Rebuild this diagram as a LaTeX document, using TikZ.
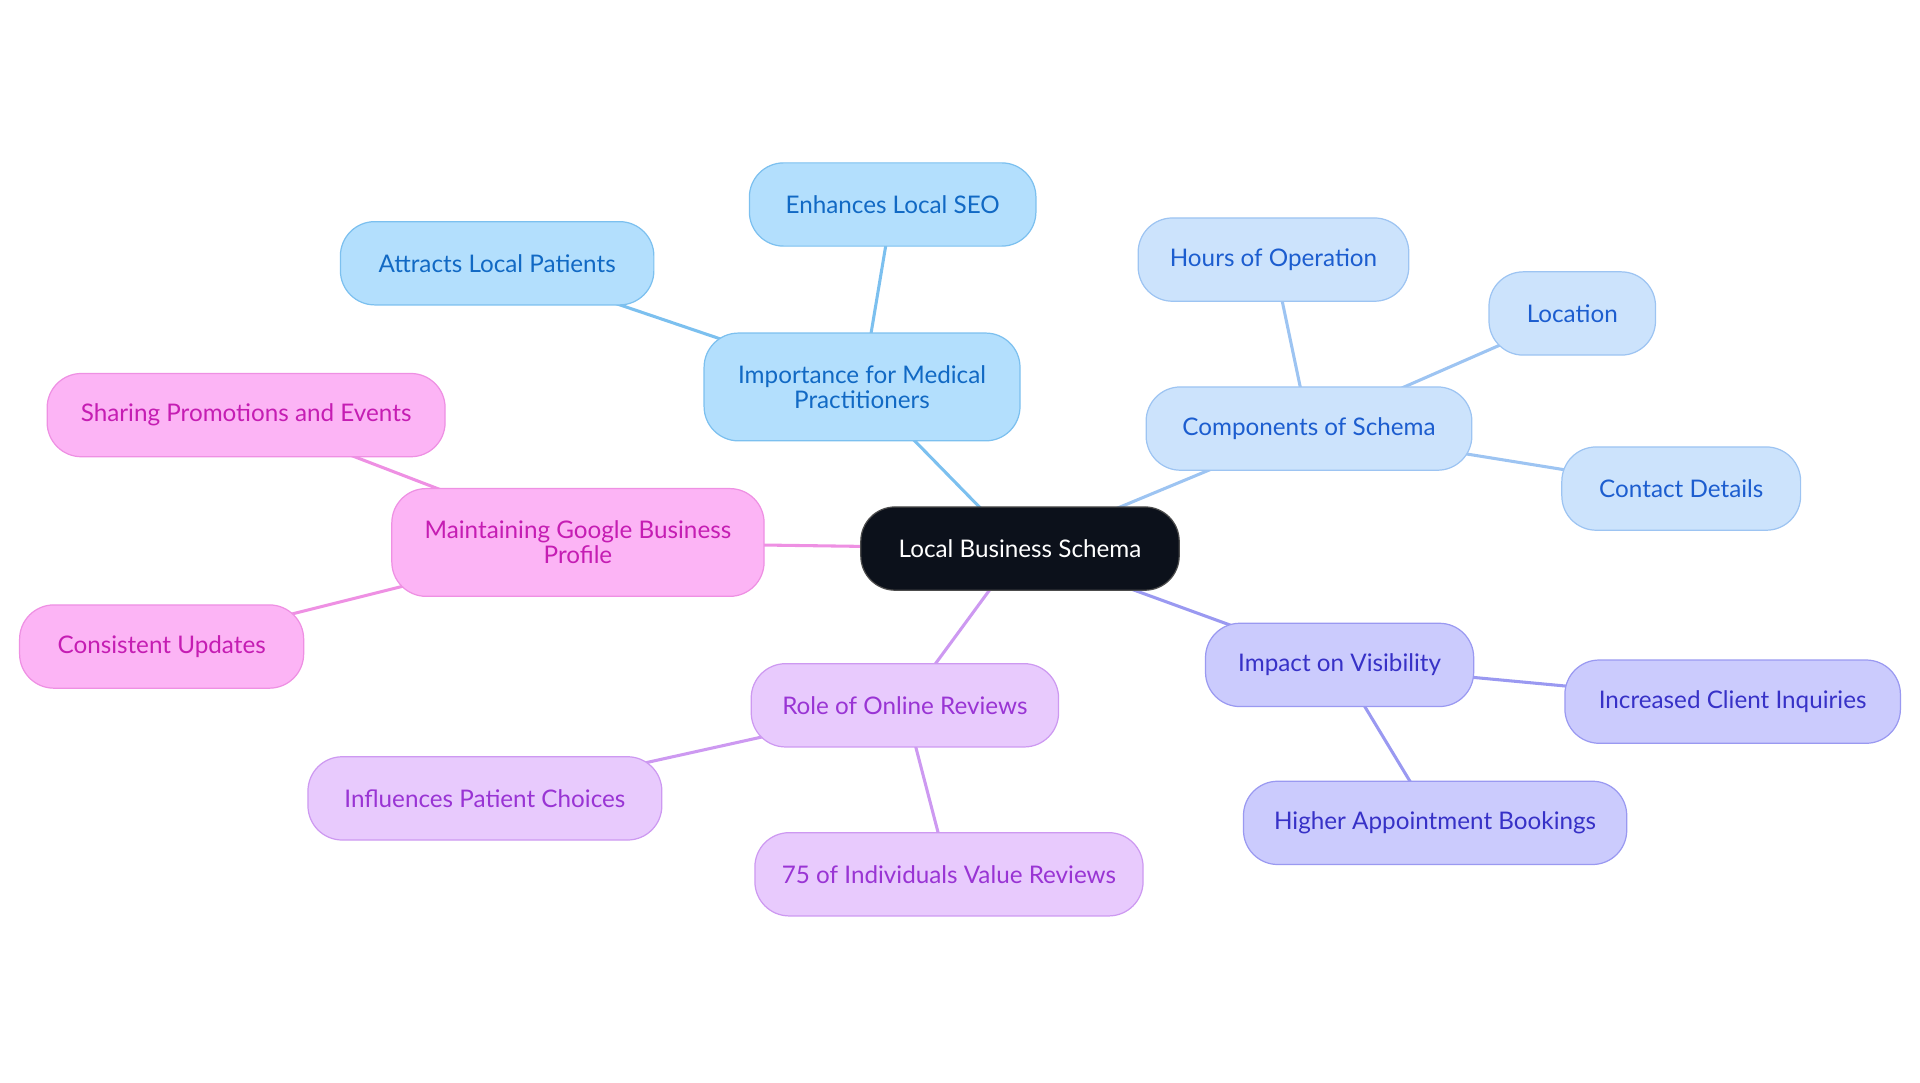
\documentclass[tikz,border=0pt]{standalone}
\usepackage{fontspec}
\setmainfont{Lato}
\usetikzlibrary{backgrounds}
\definecolor{cfill}{HTML}{0C111B}
\definecolor{aFill}{HTML}{B3DFFD}\definecolor{aLine}{HTML}{7CC0EF}\definecolor{aText}{HTML}{1169C4}
\definecolor{bFill}{HTML}{CCE3FC}\definecolor{bLine}{HTML}{9DC4F2}\definecolor{bText}{HTML}{1C5DCF}
\definecolor{cFill}{HTML}{CBCBFD}\definecolor{cLine}{HTML}{9A99F1}\definecolor{cText}{HTML}{3731C7}
\definecolor{dFill}{HTML}{E8CAFD}\definecolor{dLine}{HTML}{CD99F1}\definecolor{dText}{HTML}{9934D4}
\definecolor{eFill}{HTML}{FCB4F5}\definecolor{eLine}{HTML}{EE90E3}\definecolor{eText}{HTML}{C51DB3}
\tikzset{
  box/.style={rectangle, rounded corners=28pt, line width=1pt, inner sep=0pt,
    minimum height=68pt, align=center, font=\fontsize{19.8}{20.5}\selectfont},
  rootbox/.style={box, fill=cfill, draw=black!70, text=white},
  abox/.style={box, fill=aFill, draw=aLine, text=aText},
  bbox/.style={box, fill=bFill, draw=bLine, text=bText},
  cbox/.style={box, fill=cFill, draw=cLine, text=cText},
  dbox/.style={box, fill=dFill, draw=dLine, text=dText},
  ebox/.style={box, fill=eFill, draw=eLine, text=eText},
  link/.style={line width=2.5pt},
}
\begin{document}
\begin{tikzpicture}[x=1pt,y=-1pt]
\useasboundingbox (0,0) rectangle (1568,884.4);
\node[rootbox, minimum width=260pt] (root) at (833,448) {Local Business Schema};
\node[abox, minimum width=258pt, minimum height=88pt] (imp) at (704,316) {Importance for Medical\\Practitioners};
\node[abox, minimum width=234pt] (seo) at (729,167) {Enhances Local SEO};
\node[abox, minimum width=256pt] (att) at (406,215) {Attracts Local Patients};
\node[bbox, minimum width=266pt] (comp) at (1069,350) {Components of Schema};
\node[bbox, minimum width=221pt] (hrs) at (1040,212) {Hours of Operation};
\node[bbox, minimum width=136pt] (loc) at (1284,256) {Location};
\node[bbox, minimum width=195pt] (con) at (1373,399) {Contact Details};
\node[cbox, minimum width=219pt] (vis) at (1094,543) {Impact on Visibility};
\node[cbox, minimum width=274pt] (inq) at (1415,573) {Increased Client Inquiries};
\node[cbox, minimum width=313pt] (book) at (1172,672) {Higher Appointment Bookings};
\node[dbox, minimum width=251pt] (rev) at (739,576) {Role of Online Reviews};
\node[dbox, minimum width=289pt] (inf) at (396,652) {Influences Patient Choices};
\node[dbox, minimum width=317pt] (val) at (775,714) {75 of Individuals Value Reviews};
\node[ebox, minimum width=304pt, minimum height=88pt] (gbp) at (472,443) {Maintaining Google Business\\Profile};
\node[ebox, minimum width=325pt] (promo) at (201,339) {Sharing Promotions and Events};
\node[ebox, minimum width=232pt] (upd) at (132,528) {Consistent Updates};
\begin{scope}[on background layer]
\draw[link, aLine] (root.center) -- (imp.center);
\draw[link, aLine] (imp.center) -- (seo.center);
\draw[link, aLine] (imp.center) -- (att.center);
\draw[link, bLine] (root.center) -- (comp.center);
\draw[link, bLine] (comp.center) -- (hrs.center);
\draw[link, bLine] (comp.center) -- (loc.center);
\draw[link, bLine] (comp.center) -- (con.center);
\draw[link, cLine] (root.center) -- (vis.center);
\draw[link, cLine] (vis.center) -- (inq.center);
\draw[link, cLine] (vis.center) -- (book.center);
\draw[link, dLine] (root.center) -- (rev.center);
\draw[link, dLine] (rev.center) -- (inf.center);
\draw[link, dLine] (rev.center) -- (val.center);
\draw[link, eLine] (root.center) -- (gbp.center);
\draw[link, eLine] (gbp.center) -- (promo.center);
\draw[link, eLine] (gbp.center) -- (upd.center);
\end{scope}
\end{tikzpicture}
\end{document}
